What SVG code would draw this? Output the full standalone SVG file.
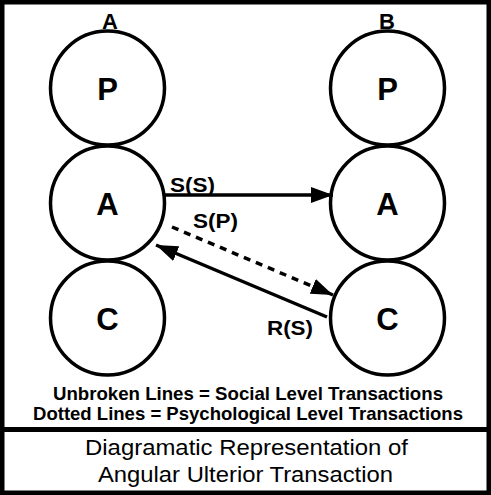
<svg xmlns="http://www.w3.org/2000/svg" width="491" height="495" viewBox="0 0 491 495">
<style>
.ego{fill:#fff;stroke:#000;stroke-width:3.5}
.big{font-family:"Liberation Sans",Arial,sans-serif;font-weight:bold;font-size:31px;text-anchor:middle;fill:#000}
.lbl{font-family:"Liberation Sans",Arial,sans-serif;font-weight:bold;font-size:21px;fill:#000}
.leg{font-family:"Liberation Sans",Arial,sans-serif;font-weight:bold;font-size:18.5px;fill:#000}
.ttl{font-family:"Liberation Sans",Arial,sans-serif;font-size:22px;fill:#000}
.ln{stroke:#000;stroke-width:3.5;fill:none}
</style>
<defs>
<marker id="ah" viewBox="0 0 10 10" refX="10" refY="5" markerWidth="22" markerHeight="16" markerUnits="userSpaceOnUse" orient="auto" preserveAspectRatio="none">
<path d="M0,0 L10,5 L0,10 Z" fill="#000"/>
</marker>
</defs>
<rect x="0" y="0" width="491" height="495" fill="#fff"/>
<rect x="2.25" y="2.25" width="486.5" height="490.5" fill="none" stroke="#000" stroke-width="4.5"/>
<line x1="0" y1="429.5" x2="491" y2="429.5" stroke="#000" stroke-width="5"/>
<g id="personA">
<text class="lbl" x="110" y="29" text-anchor="middle" style="font-size:22px">A</text>
</g>
<g id="personB">
<text class="lbl" x="387" y="29" text-anchor="middle" style="font-size:22px">B</text>
</g>
<g id="A-P"><circle class="ego" cx="107.5" cy="88" r="57"/><text class="big" x="107.5" y="100">P</text></g>
<g id="A-A"><circle class="ego" cx="107.5" cy="203" r="57"/><text class="big" x="107.5" y="215">A</text></g>
<g id="A-C"><circle class="ego" cx="107.5" cy="318" r="57"/><text class="big" x="107.5" y="330">C</text></g>
<g id="B-P"><circle class="ego" cx="387.5" cy="88" r="57"/><text class="big" x="387.5" y="100">P</text></g>
<g id="B-A"><circle class="ego" cx="387.5" cy="203" r="57"/><text class="big" x="387.5" y="215">A</text></g>
<g id="B-C"><circle class="ego" cx="387.5" cy="318" r="57"/><text class="big" x="387.5" y="330">C</text></g>
<g id="connectors">
<line class="ln" x1="164" y1="195" x2="333" y2="195" marker-end="url(#ah)"/>
<line class="ln" x1="172" y1="227" x2="333" y2="295" stroke-dasharray="7,6" marker-end="url(#ah)"/>
<line class="ln" x1="327" y1="317" x2="156" y2="245" marker-end="url(#ah)"/>
<text class="lbl" x="170" y="192" textLength="45" lengthAdjust="spacingAndGlyphs">S(S)</text>
<text class="lbl" x="193" y="228" textLength="45" lengthAdjust="spacingAndGlyphs">S(P)</text>
<text class="lbl" x="267" y="335" textLength="46" lengthAdjust="spacingAndGlyphs">R(S)</text>
</g>
<g id="legend">
<text class="leg" x="53" y="400" textLength="390" lengthAdjust="spacingAndGlyphs">Unbroken Lines = Social Level Transactions</text>
<text class="leg" x="33" y="420" textLength="430" lengthAdjust="spacingAndGlyphs">Dotted Lines = Psychological Level Transactions</text>
</g>
<g id="title">
<text class="ttl" x="85" y="455" textLength="323" lengthAdjust="spacingAndGlyphs">Diagramatic Representation of</text>
<text class="ttl" x="98" y="482" textLength="295" lengthAdjust="spacingAndGlyphs">Angular Ulterior Transaction</text>
</g>
</svg>
